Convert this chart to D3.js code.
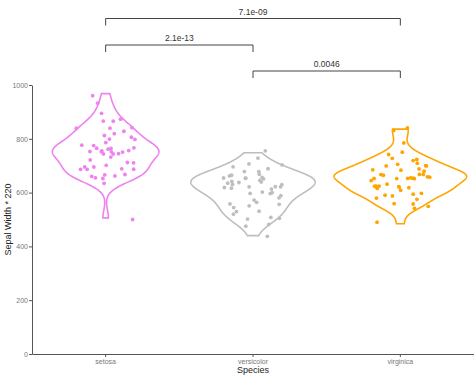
<!DOCTYPE html>
<html><head><meta charset="utf-8">
<script src="https://cdn.jsdelivr.net/npm/d3@7"></script>
<style>body{margin:0;background:#fff}svg{display:block}</style>
</head><body>
<svg id="c" width="474" height="379"></svg>
<script>
const categories = ["setosa","versicolor","virginica"];
const colors = ["#EE82EE","#BEBEBE","#FFA500"];
const setosa = [3.5,3.0,3.2,3.1,3.6,3.9,3.4,3.4,2.9,3.1,3.7,3.4,3.0,3.0,4.0,4.4,3.9,3.5,3.8,3.8,3.4,3.7,3.6,3.3,3.4,3.0,3.4,3.5,3.4,3.2,3.1,3.4,4.1,4.2,3.1,3.2,3.5,3.6,3.0,3.4,3.5,2.3,3.2,3.5,3.8,3.0,3.8,3.2,3.7,3.3];
const versicolor = [3.2,3.2,3.1,2.3,2.8,2.8,3.3,2.4,2.9,2.7,2.0,3.0,2.2,2.9,2.9,3.1,3.0,2.7,2.2,2.5,3.2,2.8,2.5,2.8,2.9,3.0,2.8,3.0,2.9,2.6,2.4,2.4,2.7,2.7,3.0,3.4,3.1,2.3,3.0,2.5,2.6,3.0,2.6,2.3,2.7,3.0,2.9,2.9,2.5,2.8];
const virginica = [3.3,2.7,3.0,2.9,3.0,3.0,2.5,2.9,2.5,3.6,3.2,2.7,3.0,2.5,2.8,3.2,3.0,3.8,2.6,2.2,3.2,2.8,2.8,2.7,3.3,3.2,2.8,3.0,2.8,3.0,2.8,3.8,2.8,2.8,2.6,3.0,3.4,3.1,3.0,3.1,3.1,3.1,2.7,3.2,3.3,3.0,2.5,3.0,3.4,3.0];
const multiplier = 220;
const yTicks = [0,200,400,600,800,1000];
const comparisons = [
  {from:"setosa", to:"virginica", label:"7.1e-09", level:0},
  {from:"setosa", to:"versicolor", label:"2.1e-13", level:1},
  {from:"versicolor", to:"virginica", label:"0.0046", level:2}
];

const groups = [setosa, versicolor, virginica].map(a => a.map(v => v*multiplier));

const svg = d3.select("#c");
const M = {left:32, right:474, top:85, bottom:354};
const x = d3.scaleBand().domain(categories).range([M.left, M.right]).padding(0);
const y = d3.scaleLinear().domain([0,1000]).range([M.bottom, M.top]);

function nrd0(a){
  const s = a.slice().sort(d3.ascending);
  const sd = d3.deviation(s);
  const iqr = (d3.quantile(s,0.75)-d3.quantile(s,0.25))/1.34;
  return 0.9*Math.min(sd, iqr)*Math.pow(a.length,-0.2);
}
const dens = groups.map(a => {
  const bw = nrd0(a);
  const mn = d3.min(a), mx = d3.max(a);
  const n = 512, pts = [];
  for (let i=0;i<n;i++){
    const t = mn + (mx-mn)*i/(n-1);
    let s = 0;
    for (const v of a){ const z=(t-v)/bw; s += Math.exp(-0.5*z*z); }
    pts.push([t, s/(a.length*bw*Math.sqrt(2*Math.PI))]);
  }
  return pts;
});
const maxD = d3.max(dens, p => d3.max(p, d=>d[1]));
const half = x.bandwidth()*0.9/2;

dens.forEach((pts, i) => {
  const cx = x(categories[i]) + x.bandwidth()/2;
  const w = d3.scaleLinear().domain([0,maxD]).range([0,half]);
  const right = pts.map(d => [cx + w(d[1]), y(d[0])]);
  const left = pts.slice().reverse().map(d => [cx - w(d[1]), y(d[0])]);
  svg.append("path")
    .attr("d", d3.line()(right.concat(left)) + "Z")
    .attr("fill","none").attr("stroke", colors[i]).attr("stroke-width",1.6);
});

function mulberry32(a){return function(){a|=0;a=a+0x6D2B79F5|0;let t=Math.imul(a^a>>>15,1|a);t=t+Math.imul(t^t>>>7,61|t)^t;return((t^t>>>14)>>>0)/4294967296;}}
const rnd = mulberry32(12345);
groups.forEach((a, i) => {
  const cx = x(categories[i]) + x.bandwidth()/2;
  a.forEach(v => {
    const jx = (rnd()*2-1)*0.2*x.bandwidth();
    const jy = (rnd()*2-1)*0.4*22;
    svg.append("circle").attr("cx", cx+jx).attr("cy", y(v+jy)).attr("r",1.9).attr("fill", colors[i]);
  });
});

const axisCol = "#555";
const font = "Liberation Sans, Arial, sans-serif";
const yAx = svg.append("g").attr("transform",`translate(${M.left},0)`)
  .call(d3.axisLeft(y).tickValues(yTicks).tickFormat(d3.format("d")).tickSize(3).tickSizeOuter(0));
yAx.select(".domain").attr("stroke",axisCol).attr("stroke-width",1);
yAx.selectAll(".tick line").attr("stroke",axisCol);
yAx.selectAll("text").attr("fill","#777").attr("font-size",7).attr("font-family",font).attr("x",-4);

const xAx = svg.append("g").attr("transform",`translate(0,${M.bottom})`)
  .call(d3.axisBottom(x).tickSize(3).tickSizeOuter(0));
xAx.select(".domain").attr("stroke",axisCol).attr("stroke-width",1);
xAx.selectAll(".tick line").attr("stroke",axisCol);
xAx.selectAll("text").attr("fill","#777").attr("font-size",7).attr("font-family",font).attr("dy","0.6em");

svg.append("text").attr("x",(M.left+M.right)/2).attr("y",373).attr("text-anchor","middle")
  .attr("font-size",9).attr("fill","#222").attr("font-family",font).text("Species");
svg.append("text").attr("transform",`translate(11,${(M.top+M.bottom)/2}) rotate(-90)`).attr("text-anchor","middle")
  .attr("font-size",9).attr("fill","#222").attr("font-family",font).text("Sepal Width * 220");

const levelY = [18.5, 45, 71];
comparisons.forEach(c => {
  const x1 = x(c.from)+x.bandwidth()/2, x2 = x(c.to)+x.bandwidth()/2;
  const yy = levelY[c.level];
  svg.append("path").attr("d",`M${x1},${yy+7}V${yy}H${x2}V${yy+7}`)
    .attr("fill","none").attr("stroke","#444").attr("stroke-width",1);
  svg.append("text").attr("x",(x1+x2)/2).attr("y",yy-4).attr("text-anchor","middle")
    .attr("font-size",8.5).attr("fill","#333").attr("font-family",font).text(c.label);
});
</script>
</body></html>
